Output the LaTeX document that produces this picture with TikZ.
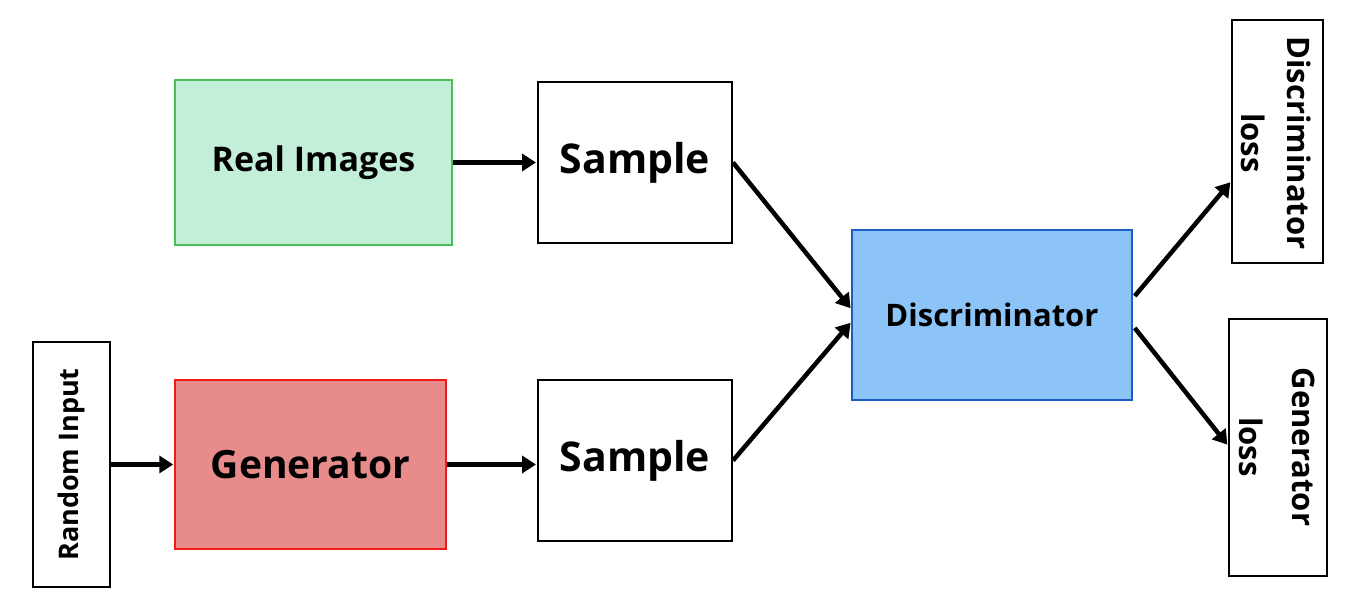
\documentclass[tikz,border=0pt]{standalone}
\usepackage{fontspec}
\setmainfont{Open Sans}
\usetikzlibrary{arrows.meta,calc}
\definecolor{rgreen}{HTML}{C3EFD8}
\definecolor{rgreenb}{HTML}{4BBE55}
\definecolor{gred}{HTML}{E78B8B}
\definecolor{gredb}{HTML}{F01A1A}
\definecolor{dblue}{HTML}{8CC4F7}
\definecolor{dblueb}{HTML}{1A5BC4}
\tikzset{
  box/.style={rectangle, draw=black, line width=2pt, fill=white, inner sep=0pt, font=\bfseries, text=black, align=center},
  cbox/.style={rectangle, line width=1.5pt, inner sep=0pt, font=\bfseries, text=black},
  arr/.style={line width=4.5pt, -{Triangle[length=14pt,width=17pt]}, shorten >=1pt},
}
\begin{document}
\begin{tikzpicture}[x=1pt,y=-1pt]
\useasboundingbox (0,0) rectangle (1358,609);
% nodes
\node[cbox, fill=rgreen, draw=rgreenb, minimum width=277pt, minimum height=165pt, font=\bfseries\fontsize{34}{40}\selectfont] (real) at (313.5,162.5) {Real Images};
\node[box, minimum width=194pt, minimum height=161pt, font=\bfseries\fontsize{41}{48}\selectfont] (st) at (635,162.5) {Sample};
\node[box, minimum width=194pt, minimum height=161pt, font=\bfseries\fontsize{41}{48}\selectfont] (sb) at (635,460.5) {Sample};
\node[cbox, fill=gred, draw=gredb, minimum width=271pt, minimum height=169pt, font=\bfseries\fontsize{39}{46}\selectfont] (gen) at (310.5,464.5) {Generator};
\node[box, minimum width=77pt, minimum height=245pt] (rand) at (71.5,464.5) {};
\node[rotate=90, font=\bfseries\fontsize{27}{32}\selectfont] (randt) at (rand.center) {Random Input};
\node[cbox, fill=dblue, draw=dblueb, minimum width=280pt, minimum height=170pt, font=\bfseries\fontsize{31}{36}\selectfont] (disc) at (992,315) {Discriminator};
\node[box, minimum width=91pt, minimum height=243pt] (dloss) at (1277.5,141.5) {};
\node[rotate=-90, align=center, font=\bfseries\fontsize{31}{46}\selectfont] (dlosst) at (1276,143) {Discriminator\\loss};
\node[box, minimum width=98pt, minimum height=257pt] (gloss) at (1278,447.5) {};
\node[rotate=-90, align=center, font=\bfseries\fontsize{31}{53}\selectfont] (glosst) at (1277,447) {Generator\\loss};
% connectors
\draw[arr] (rand.east) -- (gen.west);
\draw[arr] (real.east) -- (st.west);
\draw[arr] (gen.east) -- ($(sb.west)+(0,4)$);
\draw[arr] (st.east) -- ($(disc.west)+(0,-6)$);
\draw[arr] (sb.east) -- ($(disc.west)+(0,7)$);
\draw[arr] ($(disc.east)+(2,-19)$) -- ($(dloss.west)+(0,40)$);
\draw[arr] ($(disc.east)+(2,13)$) -- ($(gloss.west)+(0,-2)$);
\end{tikzpicture}
\end{document}
